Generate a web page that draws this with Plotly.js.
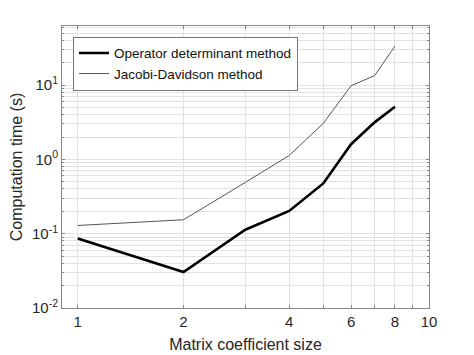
<!DOCTYPE html>
<html><head><meta charset="utf-8">
<script src="https://cdn.plot.ly/plotly-3.0.1.min.js"></script>
<style>html,body{margin:0;padding:0;background:#fff}#c{width:474px;height:355px}</style>
</head><body><div id="c"></div>
<script>
var sizes = [1, 2, 3, 4, 5, 6, 7, 8];
var operatorTime = [0.086, 0.0305, 0.113, 0.202, 0.475, 1.6, 3.15, 5.1];
var jacobiTime = [0.129, 0.154, 0.49, 1.13, 3.05, 9.8, 13.4, 33.5];
var xTickVals = [1, 2, 4, 6, 8, 10];
var xTickText = ["1", "2", "4", "6", "8", "10"];
var xMinorVals = [3, 5, 7, 9];
var yTickVals = [0.01, 0.1, 1, 10, 100];
var yTickText = ["10<sup>-2</sup>", "10<sup>-1</sup>", "10<sup>0</sup>", "10<sup>1</sup>", "10<sup>2</sup>"];
var yMinorVals = [];
yTickVals.slice(0, 4).forEach(function (d) {
  for (var m = 2; m <= 9; m++) yMinorVals.push(m * d);
});

var traces = [
  {x: sizes, y: operatorTime, mode: "lines", name: "Operator determinant method",
   line: {color: "#000000", width: 2.6}},
  {x: sizes, y: jacobiTime, mode: "lines", name: "Jacobi-Davidson method",
   line: {color: "#555555", width: 1}}
];
var fam = "Liberation Sans, Arial, sans-serif";
var axisCommon = {
  showline: true, mirror: "ticks", linecolor: "#888888", linewidth: 1,
  ticks: "inside", ticklen: 3, tickcolor: "#888888",
  gridcolor: "#e2e2e2", gridwidth: 1, zeroline: false,
  tickfont: {family: fam, size: 15, color: "#262626"}
};
var layout = {
  width: 474, height: 355,
  margin: {l: 62, r: 45, t: 26, b: 47},
  paper_bgcolor: "#ffffff", plot_bgcolor: "#ffffff",
  showlegend: true,
  legend: {x: 0.03, y: 0.962, xanchor: "left", yanchor: "top",
    bgcolor: "#ffffff", bordercolor: "#777777", borderwidth: 1,
    itemwidth: 30,
    font: {family: fam, size: 13.5, color: "#111111"},
    tracegroupgap: 0},
  xaxis: Object.assign({}, axisCommon, {
    type: "log", range: [Math.log10(0.902), 1.0],
    tickmode: "array", tickvals: xTickVals, ticktext: xTickText,
    minor: {tickmode: "array", tickvals: xMinorVals, ticks: "inside", ticklen: 3,
      tickcolor: "#888888", showgrid: true, gridcolor: "#e2e2e2", gridwidth: 1},
    title: {text: "Matrix coefficient size", standoff: 9,
      font: {family: fam, size: 16, color: "#262626"}}
  }),
  yaxis: Object.assign({}, axisCommon, {
    type: "log", range: [-2, 1.795],
    tickmode: "array", tickvals: yTickVals, ticktext: yTickText,
    minor: {tickmode: "array", tickvals: yMinorVals, ticks: "inside", ticklen: 2,
      tickcolor: "#888888", showgrid: true, gridcolor: "#e2e2e2", gridwidth: 1},
    title: {text: "Computation time (s)", standoff: 5,
      font: {family: fam, size: 16, color: "#262626"}}
  })
};
Plotly.newPlot("c", traces, layout, {displayModeBar: false, staticPlot: true});
</script>
</body></html>
